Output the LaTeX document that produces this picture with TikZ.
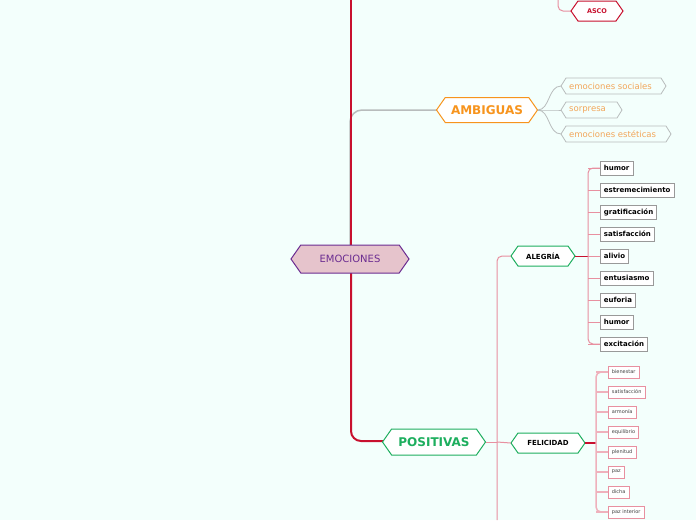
\documentclass[tikz,border=0pt]{standalone}
\usepackage{fontspec}
\setmainfont{DejaVu Sans}
\definecolor{bg}{HTML}{F3FFFC}
\definecolor{purp}{HTML}{6B2C91}
\definecolor{pinkf}{HTML}{E6C4CC}
\definecolor{org}{HTML}{F7941D}
\definecolor{orgl}{HTML}{F2A65A}
\definecolor{redd}{HTML}{C8102E}
\definecolor{grn}{HTML}{1DAE5E}
\definecolor{pinkl}{HTML}{E890A0}
\definecolor{gry}{HTML}{B8BCBC}
\newcommand\hexn[8]{% name,x,y,w,h,drawcol,fill,text-style+text
  \fill[#7] (#2-#4/2,#3) -- ++(#5*0.35,-#5/2) -- (#2+#4/2-#5*0.35,#3-#5/2) -- (#2+#4/2,#3) -- (#2+#4/2-#5*0.35,#3+#5/2) -- (#2-#4/2+#5*0.35,#3+#5/2) -- cycle;
  \draw[#6,line width=1pt] (#2-#4/2,#3) -- ++(#5*0.35,-#5/2) -- (#2+#4/2-#5*0.35,#3-#5/2) -- (#2+#4/2,#3) -- (#2+#4/2-#5*0.35,#3+#5/2) -- (#2-#4/2+#5*0.35,#3+#5/2) -- cycle;
  \node[minimum width=#4pt,minimum height=#5pt,inner sep=0pt] (#1) at (#2,#3) {#8};}
\tikzset{
  box/.style={draw=gray!80,fill=white,line width=0.8pt,anchor=west,inner xsep=3.5pt,inner ysep=2.5pt,font=\fontsize{7}{8}\selectfont\bfseries,minimum height=14pt},
  sbox/.style={draw=pinkl,fill=white,line width=0.8pt,anchor=west,inner xsep=3.5pt,font=\fontsize{5}{6}\selectfont,text=black!75,minimum height=12pt},
  amb/.style={anchor=west,inner sep=3pt,font=\fontsize{8.5}{10}\selectfont,text=orgl,minimum height=16pt},
}
\begin{document}
\begin{tikzpicture}[x=1pt,y=-1pt]
\fill[bg] (0,0) rectangle (696,520);
\useasboundingbox (0,0) rectangle (696,520);
% trunks
\draw[gry,line width=1.5pt,rounded corners=12pt] (350,262) -- (350,110) -- (437,110);
\draw[redd,line width=2pt] (351,0) -- (351,246);
\draw[redd,line width=2pt,rounded corners=10pt] (351,272) -- (351,441) -- (383,441);
\draw[pinkl,line width=1pt,rounded corners=5pt] (558,0) -- (558,11) -- (571,11);
% nodes
\hexn{emo}{350}{259}{118}{28}{purp}{pinkf}{\textcolor{purp}{\fontsize{10}{12}\selectfont EMOCIONES}}
\hexn{asco}{597}{11}{52}{20}{redd}{white}{\textcolor{redd}{\fontsize{6.5}{8}\selectfont\bfseries ASCO}}
\hexn{ambi}{487}{110}{101}{25}{org}{white}{\textcolor{org}{\fontsize{12}{14}\selectfont\bfseries AMBIGUAS}}
\hexn{posi}{434}{442}{103}{26}{grn}{white}{\textcolor{grn}{\fontsize{12}{14}\selectfont\bfseries POSITIVAS}}
\hexn{aleg}{543}{256}{64}{20}{grn}{white}{\fontsize{7}{8}\selectfont\bfseries ALEGRÍA}
\hexn{feli}{548}{443}{74}{20}{grn}{white}{\fontsize{7}{8}\selectfont\bfseries FELICIDAD}
% ambiguas children
\foreach \n/\t/\y/\w in {a1/emociones sociales/86/105,a2/sorpresa/110/61,a3/emociones estéticas/134/110}{
  \draw[gry,line width=0.8pt] (561,\y) -- (566,\y-8) -- (561+\w-5,\y-8) -- (561+\w,\y) -- (561+\w-5,\y+8) -- (566,\y+8) -- cycle;
  \node[amb] (\n) at (566,\y) {\t};
  \draw[gry,line width=0.8pt] (ambi.east) .. controls (550,110) and (548,\y) .. (561,\y);
}
% positivas branch
\draw[pinkl,line width=1pt] (posi.east) -- (497,442);
\draw[pinkl,line width=1pt,rounded corners=5pt] (497,520) -- (497,256) -- (aleg.west);
\draw[pinkl,line width=1pt] (497,442) -- (feli.west);
% alegria
\draw[redd,line width=1pt] (aleg.east) -- (588,256);
\draw[pinkl,line width=1pt,rounded corners=5pt] (600,168) -- (588,168) -- (588,344) -- (600,344);
\foreach \t [count=\i] in {humor,estremecimiento,gratificación,satisfacción,alivio,entusiasmo,euforia,humor,excitación}{
  \node[box] (b\i) at (600,146+22*\i) {\t};
  \draw[pinkl,line width=1pt] (588,146+22*\i) -- (b\i.west);
}
% felicidad
\draw[redd,line width=2pt] (feli.east) -- (596,443);
\draw[pinkl!70,line width=1.5pt,rounded corners=5pt] (608,372) -- (596,372) -- (596,512) -- (608,512);
\foreach \t [count=\i] in {bienestar,satisfacción,armonía,equilibrio,plenitud,paz,dicha,paz interior}{
  \node[sbox] (s\i) at (608,352+20*\i) {\t};
  \draw[pinkl!70,line width=1.5pt] (596,352+20*\i) -- (s\i.west);
}
\end{tikzpicture}
\end{document}
